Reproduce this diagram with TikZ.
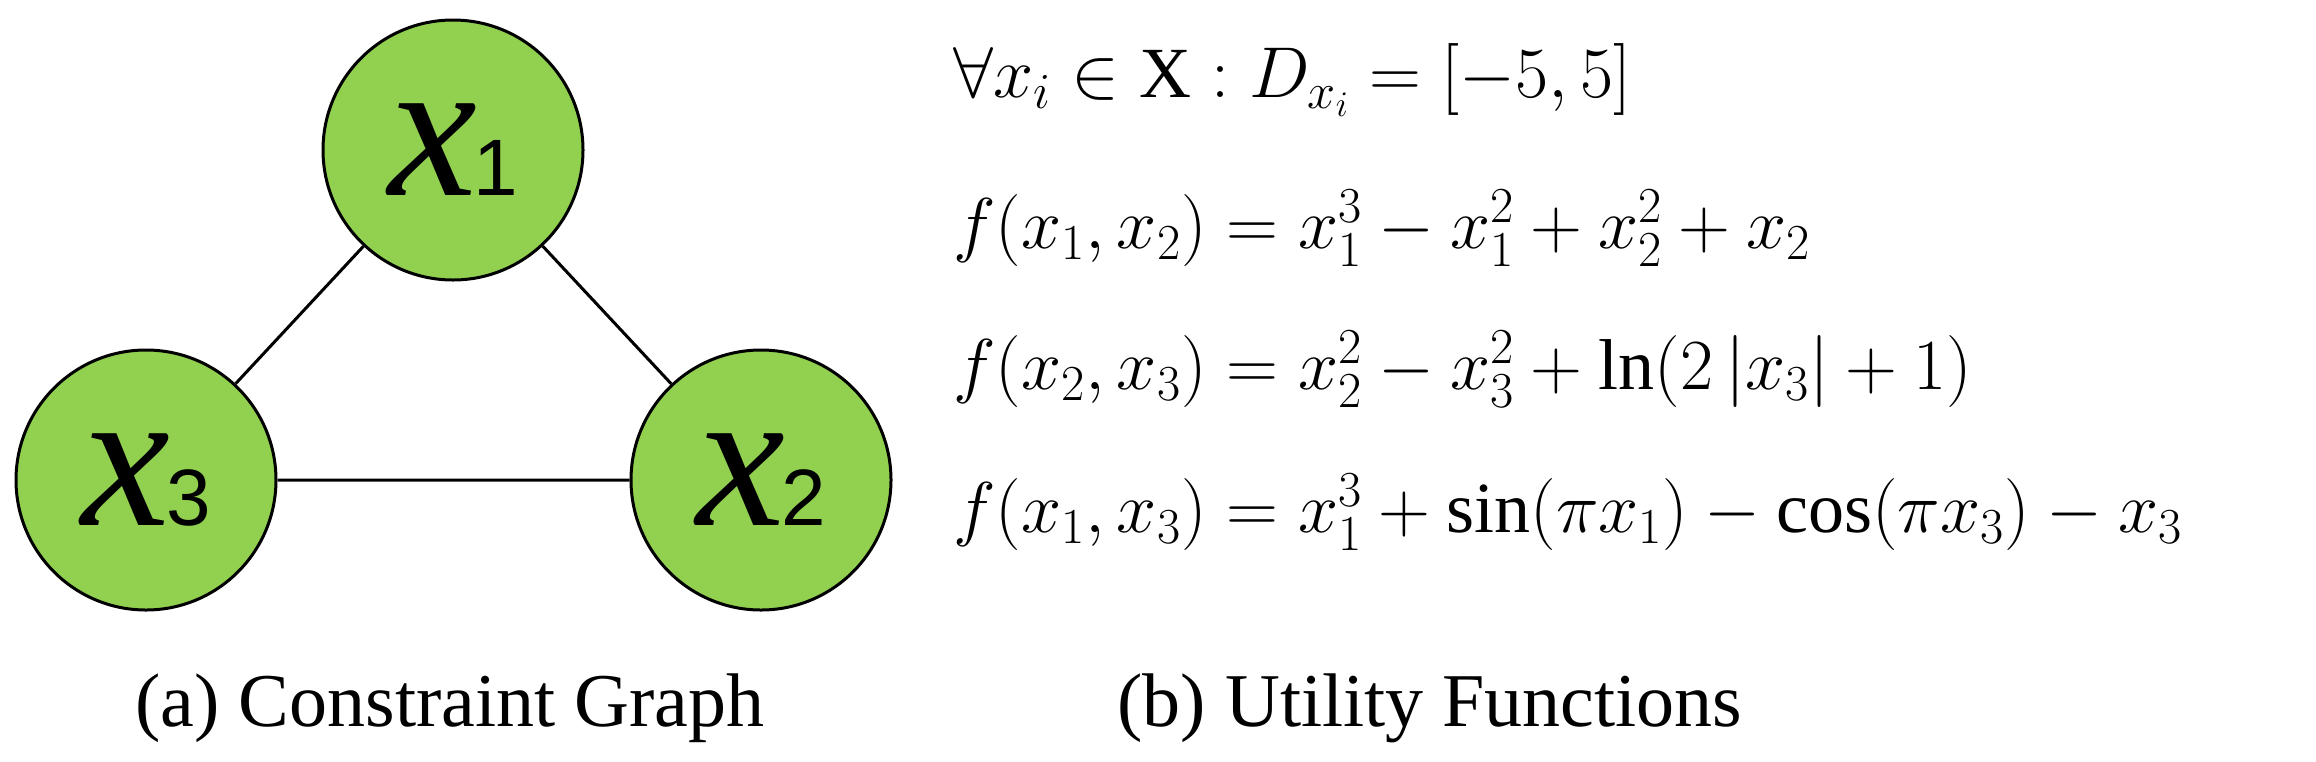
\RequirePackage{fix-cm}
\documentclass[tikz,border=0pt]{standalone}
\usepackage{fontspec}
\setmainfont{Liberation Serif}
\setsansfont{Liberation Sans}
\begin{document}
\begin{tikzpicture}[x=0.5pt,y=-0.5pt,
  vnode/.style={circle,draw,line width=1.5pt,fill={rgb,255:red,146;green,208;blue,80},minimum size=130pt,inner sep=0pt},
  eqn/.style={anchor=west,inner sep=0pt,font=\fontsize{36}{44}\selectfont},
  captxt/.style={font=\fontsize{38}{44}\selectfont}]
\useasboundingbox (0,0) rectangle (2316,761);
\newcommand{\vlab}[1]{\fontsize{100}{110}\selectfont\textit{x}\kern-2pt{\sffamily\fontsize{40}{48}\selectfont #1}}
\node[vnode] (a) at (453,150) {\vlab{1}};
\node[vnode] (c) at (146,480) {\vlab{3}};
\node[vnode] (b) at (761,480) {\vlab{2}};
\draw[line width=1.5pt] (a)--(b) (b)--(c) (c)--(a);
\node[captxt] (ca) at (450,708) {(a) Constraint Graph};
\node[captxt] (cb) at (1430,708) {(b) Utility Functions};
\node[eqn] (e1) at (953,80) {$\forall x_i\in \mathrm{X}: D_{x_i}=[-5,5]$};
\node[eqn] (e2) at (953,228) {$f(x_1,x_2)=x_1^3-x_1^2+x_2^2+x_2$};
\node[eqn] (e3) at (953,369) {$f(x_2,x_3)=x_2^2-x_3^2+\ln(2\left|x_3\right|+1)$};
\node[eqn] (e4) at (953,512) {$f(x_1,x_3)=x_1^3+\sin(\pi x_1)-\cos(\pi x_3)-x_3$};
\end{tikzpicture}
\end{document}
